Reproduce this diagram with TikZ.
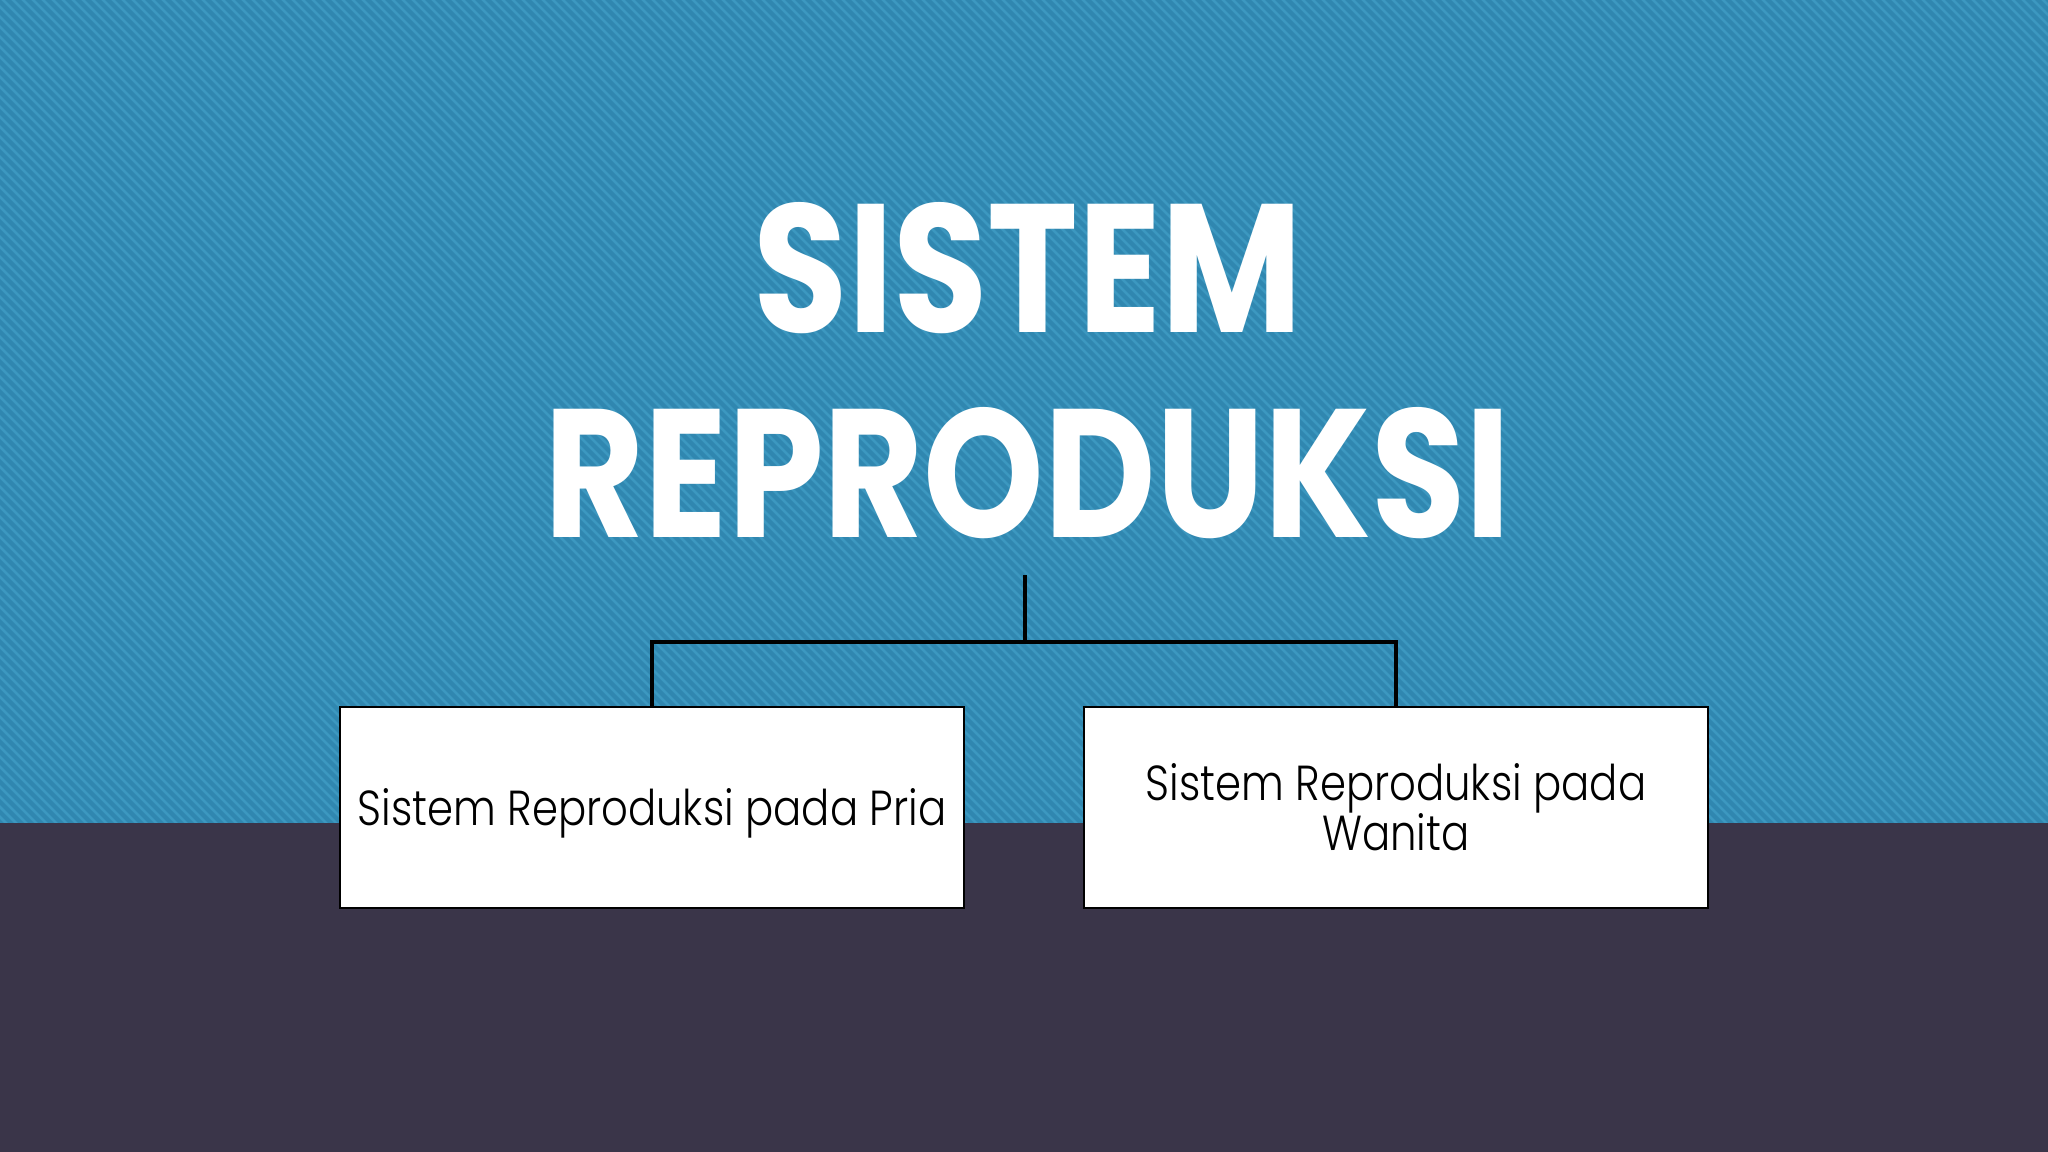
\documentclass[tikz,border=0pt]{standalone}
\usepackage{fontspec}
\setmainfont{Poppins}
\newfontfamily\titlefont[FakeStretch=0.84]{Poppins}
\newfontfamily\boxfont[FakeStretch=0.85]{Poppins Light}
\usetikzlibrary{positioning}
\definecolor{slideblue}{RGB}{60,152,192}
\definecolor{stripeblue}{RGB}{48,135,176}
\definecolor{slidedark}{RGB}{58,53,73}
\tikzset{
	branch/.style={draw=black, fill=white, line width=0.8pt, minimum width=6.24cm, minimum height=2.01cm, align=center, font=\boxfont\fontsize{14}{14.2}\selectfont},
	title/.style={text=white, anchor=base, inner sep=0pt, font=\titlefont\bfseries\fontsize{52}{52}\selectfont},
	link/.style={draw=black, line width=0.9pt}
}
\begin{document}
\begin{tikzpicture}
				\useasboundingbox (0,0) rectangle (20.48,11.52);
				% background
				\fill[slidedark] (0,0) rectangle (20.48,3.29);
				\fill[slideblue] (0,3.29) rectangle (20.48,11.52);
				\begin{scope}
					\clip (0,3.29) rectangle (20.48,11.52);
					\foreach \i in {0,...,290}
						\draw[stripeblue, line width=1.2pt] (\i*0.1-8.4,11.6) -- ++(8.4,-8.4);
				\end{scope}
				%
				\node (t1)[title] at (10.28,8.19){SISTEM};
				\node (t2)[title] at (10.28,6.14){REPRODUKSI};
				%
				\node (pria)[branch, text depth=0pt] at (6.52,3.445){Sistem Reproduksi pada Pria};
				\node (wanita)[branch] at (13.96,3.445){Sistem Reproduksi pada\\ Wanita};
				%
				\coordinate (top) at (10.25,5.77);
				\coordinate (fork) at (10.25,5.10);
				\draw[link] (top) -- (fork);
				\draw[link] (fork) -| (pria.north);
				\draw[link] (fork) -| (wanita.north);
			\end{tikzpicture}
\end{document}
